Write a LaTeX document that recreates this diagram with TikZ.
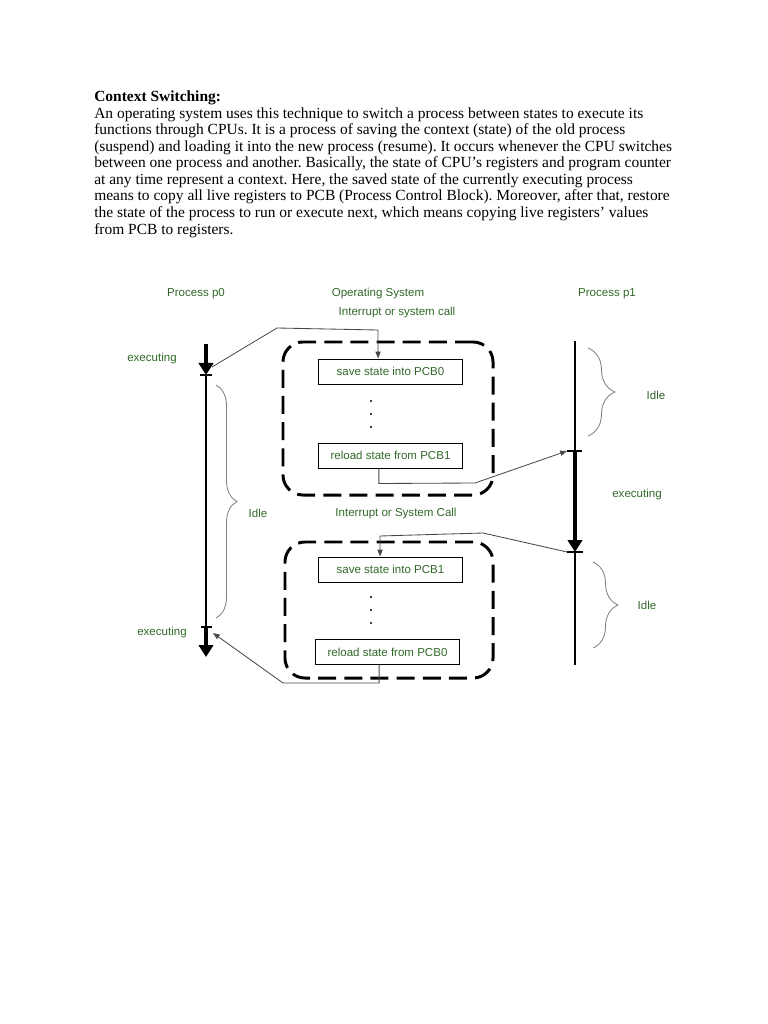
\documentclass[tikz,border=0pt]{standalone}
\usepackage{fontspec}
\setmainfont{Liberation Serif}
\newfontfamily\diagfont{Liberation Sans}
\usetikzlibrary{arrows.meta, decorations.pathreplacing}
\definecolor{labelgreen}{RGB}{48,104,40}
\definecolor{linkgray}{RGB}{72,72,72}
\frenchspacing

\begin{document}
\begin{tikzpicture}[x=0.025cm, y=-0.025cm,
                    para/.style={anchor=north west, inner sep=0pt, align=left, font=\fontsize{11}{11.78}\selectfont},
                    os_text/.style={text=labelgreen, inner sep=0pt, font=\diagfont\fontsize{8.2}{9}\selectfont},
                    state_box/.style={os_text, draw=black, line width=0.7pt, minimum width=3.575cm, minimum height=0.625cm},
                    os_group/.style={draw, line width=2.1pt, dash pattern=on 12.8pt off 5.8pt, rounded corners=0.5cm},
                    timeline/.style={line width=1pt},
                    tick_bar/.style={line width=1.4pt},
                    exec_arrow/.style={-{Triangle[width=0.36cm, length=0.3cm]}, line width=2.8pt},
                    link/.style={-{Triangle[width=0.13cm, length=0.17cm]}, linkgray, line width=0.6pt},
                    idle_brace/.style={decorate, decoration={brace, amplitude=#1}, gray, line width=0.6pt}]

    \useasboundingbox (0,0) rectangle (768,1024);

    \node[para] (intro) at (94,90.5) {\textbf{Context Switching:}\\
        An operating system uses this technique to switch a process between states to execute its\\
        functions through CPUs. It is a process of saving the context (state) of the old process\\
        (suspend) and loading it into the new process (resume). It occurs whenever the CPU switches\\
        between one process and another. Basically, the state of CPU’s registers and program counter\\
        at any time represent a context. Here, the saved state of the currently executing process\\
        means to copy all live registers to PCB (Process Control Block). Moreover, after that, restore\\
        the state of the process to run or execute next, which means copying live registers’ values\\
        from PCB to registers.};

    \node[os_text] (p0_title) at (196,294) {Process p0};
    \node[os_text] (os_title) at (378,294) {Operating System};
    \node[os_text] (p1_title) at (607,294) {Process p1};
    \node[os_text] (irq0_text) at (397,313) {Interrupt or system call};
    \node[os_text] (irq1_text) at (396,514) {Interrupt or System Call};
    \node[os_text] (exec0_text) at (152,359) {executing};
    \node[os_text] (exec0b_text) at (162,633) {executing};
    \node[os_text] (exec1_text) at (637,495) {executing};
    \node[os_text] (idle0_text) at (258,513) {Idle};
    \node[os_text] (idle1_text) at (656,395) {Idle};
    \node[os_text] (idle1b_text) at (647,605) {Idle};

    \node[os_group, minimum width=5.25cm, minimum height=3.825cm] (os_a) at (388,418.5) {};
    \node[os_group, minimum width=5.2cm, minimum height=3.4cm] (os_b) at (389,610) {};

    \node[state_box] (save0) at (390.5,371.5) {save state into PCB0};
    \node[state_box] (reload1) at (390.5,455.5) {reload state from PCB1};
    \node[state_box] (save1) at (390.5,569.5) {save state into PCB1};
    \node[state_box] (reload0) at (387.5,652) {reload state from PCB0};

    \foreach \y in {401,414,427,597,610,623}
        \fill (371,\y) circle (0.03cm);

    \coordinate (p0_top) at (206,344);
    \coordinate (p0_stop) at (206,375);
    \coordinate (p0_resume) at (206,627);
    \coordinate (p0_end) at (206,657);
    \coordinate (p1_top) at (575,341);
    \coordinate (p1_start) at (575,451);
    \coordinate (p1_stop) at (575,552);
    \coordinate (p1_end) at (575,665);
    \coordinate (p0_out) at (212,367);
    \coordinate (p0_in) at (213,633);
    \coordinate (p1_in) at (567,451);
    \coordinate (p1_out) at (567,552);

    \draw[timeline] (p0_stop) -- (p0_resume);
    \draw[timeline] (p1_top) -- (p1_start);
    \draw[timeline] (p1_stop) -- (p1_end);

    \draw[exec_arrow] (p0_top) -- (p0_stop);
    \draw[exec_arrow] (p0_resume) -- (p0_end);
    \draw[exec_arrow] (p1_start) -- (p1_stop);

    \draw[tick_bar] (p0_stop) +(-6,0) -- +(6,0);
    \draw[tick_bar] (p0_resume) +(-5,0) -- +(6,0);
    \draw[tick_bar] (p1_start) +(-8,0) -- +(7,0);
    \draw[tick_bar] (p1_stop) +(-8,0) -- +(8,0);

    \draw[idle_brace=0.525cm] (216,385) -- (216,618);
    \draw[idle_brace=0.675cm] (588,348) -- (588,436);
    \draw[idle_brace=0.625cm] (593,562) -- (593,648);

    \draw[link] (p0_out) -- (277,328) -- (378,330) -- ([xshift=-0.31cm]save0.north);
    \draw[link] ([xshift=-0.29cm]reload1.south) -- ++(0,15) -- (475,483) -- (p1_in);
    \draw[link] (p1_out) -- (483,533) -- (380,536) -- ([xshift=-0.26cm]save1.north);
    \draw[link] ([xshift=-0.21cm]reload0.south) -- ++(0,18) -- (283,683) -- (p0_in);
\end{tikzpicture}
\end{document}
